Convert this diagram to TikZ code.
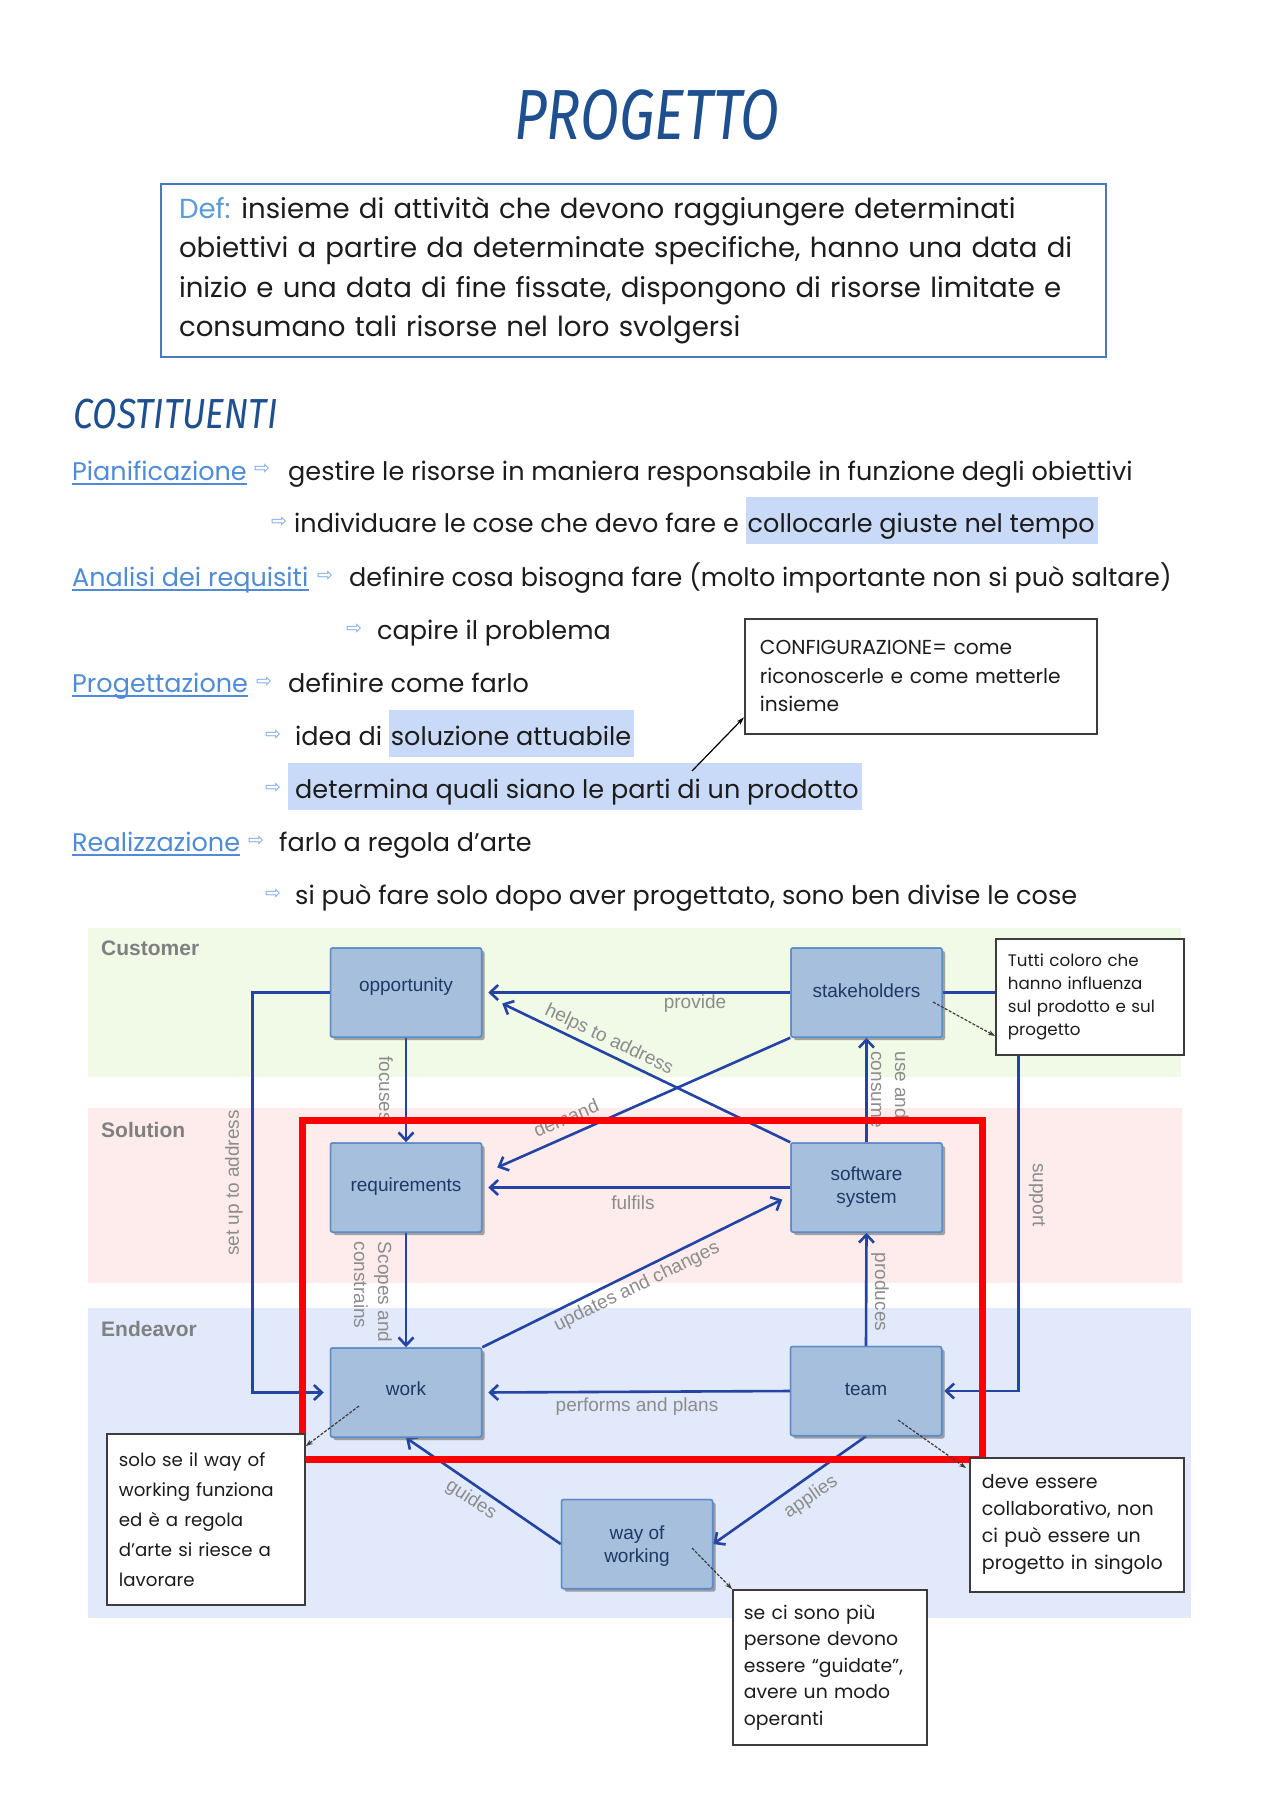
\documentclass[tikz,border=0pt]{standalone}
\usepackage{fontspec}
\setmainfont{Poppins}
\newfontfamily\arialf{Liberation Sans}
\newfontfamily\titlef{Fira Sans}
\newfontfamily\symf{DejaVu Sans}
\usetikzlibrary{arrows.meta,shadows,calc}
\definecolor{titleblue}{HTML}{1E4F8F}
\definecolor{defblue}{HTML}{4A78C0}
\definecolor{deflbl}{HTML}{5B9BD5}
\definecolor{linkblue}{HTML}{4F8BD6}
\definecolor{hlblue}{HTML}{C9DAF8}
\definecolor{txt}{HTML}{1C1C1C}
\definecolor{arrowsym}{HTML}{7FAAE6}
\definecolor{custbg}{HTML}{F1F9E7}
\definecolor{solbg}{HTML}{FDECEB}
\definecolor{endbg}{HTML}{E1E9FA}
\definecolor{nodefill}{HTML}{A5BFDD}
\definecolor{nodeborder}{HTML}{5B8BC9}
\definecolor{nodetext}{HTML}{1F3864}
\definecolor{connblue}{HTML}{2444A4}
\definecolor{lblgray}{HTML}{8C8C8C}
\definecolor{lanegray}{HTML}{808080}
\definecolor{anngray}{HTML}{3C3C3C}
\newcommand\hlbx[2][2pt]{{\setlength{\fboxsep}{0pt}\colorbox{hlblue}{\rule[-12pt]{0pt}{47pt}\hspace{#1}#2\hspace{3pt}}}}
\newcommand\rz[2]{\raisebox{#1}[\height][\depth]{#2}}
\begin{document}
\begin{tikzpicture}[x=1pt,y=-1pt,
  ltxt/.style={font=\fontsize{25.5}{30}\selectfont, text=txt, inner sep=0pt, anchor=base west},
  link/.style={font=\fontsize{25.5}{30}\selectfont, text=linkblue, inner sep=0pt, anchor=base west},
  uline/.style={draw=linkblue, line width=1.5pt},
  sym/.style={font=\symf\fontsize{19}{19}\selectfont, text=arrowsym, inner sep=0pt},
  diagnode/.style={draw=nodeborder, line width=1.5pt, fill=nodefill, rounded corners=2pt,
    minimum width=151pt, minimum height=89pt, inner sep=0pt, align=center,
    font=\arialf\fontsize{19}{23}\selectfont, text=nodetext,
    drop shadow={shadow xshift=3pt, shadow yshift=-3pt, opacity=0.35, fill=black!60}},
  conn/.style={draw=connblue, line width=2.6pt, -{Straight Barb[length=8pt,width=15pt]}},
  lbl/.style={font=\arialf\fontsize{19}{24}\selectfont, text=lblgray, inner sep=0pt, align=left},
  lane/.style={font=\arialf\bfseries\fontsize{21}{24}\selectfont, text=lanegray, inner sep=0pt, anchor=west},
  annbox/.style={draw=anngray, line width=1.8pt, fill=white, anchor=north west, align=left,
    inner ysep=0pt, text=txt},
  annarrow/.style={draw=anngray, line width=1.2pt, dash pattern=on 3pt off 1.5pt, -{Stealth[length=7pt,width=5pt]}}
]
\fill[white] (0,0) rectangle (1280,1818);
\useasboundingbox (0,0) rectangle (1280,1818);

% ---------- title ----------
\node[inner sep=0pt, text=titleblue, font=\titlef\itshape\fontsize{71}{71}\selectfont] (title) at (647,115.5) {\scalebox{0.8}[1]{PROGETTO}};

% ---------- definition ----------
\node[draw=defblue, line width=2pt, anchor=north west, minimum width=945pt, minimum height=173pt,
  text width=909pt, inner xsep=18pt, inner ysep=0pt, align=left, text=txt,
  font=\fontsize{27.6}{39.3}\selectfont] (defbox) at (160,183)
  {\mbox{\textcolor{deflbl}{Def:}\hspace{-3pt} insieme di attività che devono raggiungere determinati}\\
   \mbox{obiettivi a partire da determinate specifiche, hanno una data di}\\
   \mbox{inizio e una data di fine fissate, dispongono di risorse limitate e}\\
   \mbox{consumano tali risorse nel loro svolgersi}};

% ---------- costituenti ----------
\node[inner sep=0pt, text=titleblue, font=\titlef\itshape\fontsize{42}{42}\selectfont] (cost) at (175.5,414) {\scalebox{0.85}[1]{COSTITUENTI}};

\node[link] (l1) at (72,480) {Pianificazione};
\draw[uline] ($(l1.base west)+(0,4)$) -- ($(l1.base east)+(0,4)$);
\node[sym] (a1) at (262,469) {⇨};
\node[ltxt] (t1) at (288,480) {gestire le risorse in maniera responsabile in funzione degli obiettivi};

\node[sym] (a2) at (279,522) {⇨};
\node[ltxt] (t2) at (294,532) {individuare le cose che devo fare e \hlbx{collocarle giuste nel tempo}};

\node[link] (l2) at (72,586) {Analisi dei requisiti};
\draw[uline] ($(l2.base west)+(0,4)$) -- ($(l2.base east)+(0,4)$);
\node[sym] (a3) at (325,576) {⇨};
\node[ltxt] (t3) at (349,586) {definire cosa bisogna fare (molto importante non si può saltare)};

\node[sym] (a4) at (354,629) {⇨};
\node[ltxt] (t4) at (377,639) {capire il problema};

\node[link] (l3) at (72,692) {Progettazione};
\draw[uline] ($(l3.base west)+(0,4)$) -- ($(l3.base east)+(0,4)$);
\node[sym] (a5) at (264,682) {⇨};
\node[ltxt] (t5) at (288,692) {definire come farlo};

\node[sym] (a6) at (273,735) {⇨};
\node[ltxt] (t6) at (295,745) {idea di \hlbx{soluzione attuabile}};

\node[sym] (a7) at (273,788) {⇨};
\node[ltxt] (t7) at (288,798) {\hlbx[7pt]{determina quali siano le parti di un prodotto}};

\node[link] (l4) at (72,851) {Realizzazione};
\draw[uline] ($(l4.base west)+(0,4)$) -- ($(l4.base east)+(0,4)$);
\node[sym] (a8) at (256,841) {⇨};
\node[ltxt] (t8) at (279,851) {farlo a regola d’arte};

\node[sym] (a9) at (273,894) {⇨};
\node[ltxt] (t9) at (295,904) {si può fare solo dopo aver progettato, sono ben divise le cose};

% configurazione note
\node[annbox, minimum width=352pt, minimum height=115pt, text width=322pt, inner xsep=15pt,
  font=\fontsize{20.2}{28.5}\selectfont] (cfg) at (744,618)
  {\mbox{CONFIGURAZIONE= come}\\\mbox{riconoscerle e come metterle}\\\mbox{insieme}};
\coordinate (cfgfrom) at (692,771);
\draw[draw=black, line width=1.2pt, -{Stealth[length=8pt,width=5pt]}] (cfgfrom) -- ($(cfg.west)+(0,41)$);

% ---------- diagram lanes ----------
\fill[custbg] (88,928) rectangle (1181,1077);
\fill[solbg] (88,1108) rectangle (1182,1283);
\fill[endbg] (88,1308) rectangle (1191,1618);
\node[lane] (lcust) at (101,948) {Customer};
\node[lane] (lsol) at (101,1130) {Solution};
\node[lane] (lend) at (101,1329) {Endeavor};

% ---------- nodes (geometry) ----------
\node[diagnode] (opp) at (406,992.5) {\rz{6pt}{opportunity}};
\node[diagnode] (stake) at (866.5,992.5) {\rz{2pt}{stakeholders}};
\node[diagnode] (req) at (406,1187.5) {\rz{1pt}{requirements}};
\node[diagnode] (soft) at (866.5,1187.5) {software\\system};
\node[diagnode] (work) at (406,1392.5) {\rz{4pt}{work}};
\node[diagnode] (team) at (866,1391) {\rz{2pt}{team}};
\node[diagnode] (wow) at (637,1544) {\rz{-2pt}{way of}\\\rz{-2pt}{working}};

% ---------- connectors ----------
\draw[conn, shorten >=6pt] (stake.west) -- (opp.east);
\draw[conn] (soft.north west) -- ($(opp.east)+(20,11)$);
\draw[conn] (stake.south west) -- ($(req.east)+(15,-20)$);
\draw[conn] (opp.south) -- (req.north);
\draw[conn, shorten >=6pt] (soft.west) -- (req.east);
\draw[conn] (soft.north) -- (stake.south);
\draw[conn] (req.south) -- (work.north);
\draw[conn] (team.north) -- (soft.south);
\draw[conn, shorten >=6pt] (team.west) -- (work.east);
\draw[conn] (work.north east) -- ($(soft.west)+(-8,12)$);
\draw[conn, shorten >=6pt] (opp.west) -- ++(-77,0) |- (work.west);
\draw[conn, shorten >=2pt] (stake.east) -- ++(76,0) |- (team.east);
\draw[conn] (wow.west) -- (work.south);
\draw[conn] (team.south) -- (wow.east);

% redraw nodes on top of connectors
\node[diagnode] at (opp) {\rz{6pt}{opportunity}};
\node[diagnode] at (stake) {\rz{2pt}{stakeholders}};
\node[diagnode] at (req) {\rz{1pt}{requirements}};
\node[diagnode] at (soft) {software\\system};
\node[diagnode] at (work) {\rz{4pt}{work}};
\node[diagnode] at (team) {\rz{2pt}{team}};
\node[diagnode] at (wow) {\rz{-2pt}{way of}\\\rz{-2pt}{working}};

% ---------- labels ----------
\node[lbl] (lprov) at (695,1004) {provide};
\node[lbl, rotate=-25.5] (lhelp) at (609,1040) {helps to address};
\node[lbl, rotate=23] (ldem) at (566,1118) {demand};
\node[lbl, rotate=-90] (lfoc) at (386,1089) {focuses};
\node[lbl] (lful) at (633,1203) {fulfils};
\node[lbl, rotate=-90] (luse) at (890,1090) {use and\\consume};
\node[lbl, rotate=-90] (lscope) at (373,1292) {Scopes and\\constrains};
\node[lbl, rotate=90] (lset) at (234,1183) {set up to address};
\node[lbl, rotate=-90] (lsup) at (1037,1195) {support};
\node[lbl, rotate=-90] (lprod) at (880,1292) {produces};
\node[lbl] (lperf) at (637,1407) {performs and plans};
\node[lbl, rotate=26] (lupd) at (637,1287) {updates and changes};
\node[lbl, rotate=-33] (lguid) at (471,1500) {guides};
\node[lbl, rotate=34.5] (lappl) at (811,1497) {applies};

% ---------- red focus frame ----------
\node[draw=red, line width=7pt, anchor=north west, minimum width=680pt, minimum height=339pt, inner sep=0pt] (focus) at (299,1117) {};

% ---------- annotations ----------
\node[annbox, minimum width=188pt, minimum height=116pt, text width=164pt, inner xsep=12pt,
  font=\fontsize{16.7}{23}\selectfont] (annA) at (995,938)
  {\mbox{Tutti coloro che}\\\mbox{hanno influenza}\\\mbox{sul prodotto e sul}\\\mbox{progetto}};
\coordinate (fromA) at (933,1002);
\draw[annarrow] (fromA) -- ($(annA.west)+(0,39)$);

\node[annbox, minimum width=198pt, minimum height=171pt, text width=174pt, inner xsep=12pt,
  font=\fontsize{18.2}{30}\selectfont] (annB) at (106,1433)
  {\mbox{solo se il way of}\\\mbox{working funziona}\\\mbox{ed è a regola}\\\mbox{d’arte si riesce a}\\\mbox{lavorare}};
\coordinate (fromB) at (359,1406);
\draw[annarrow] (fromB) -- ($(annB.north east)+(0,13)$);

\node[annbox, minimum width=214pt, minimum height=134pt, text width=190pt, inner xsep=12pt,
  font=\fontsize{19}{27}\selectfont] (annC) at (969,1457)
  {\mbox{deve essere}\\\mbox{collaborativo, non}\\\mbox{ci può essere un}\\\mbox{progetto in singolo}};
\coordinate (fromC) at (898,1420);
\draw[annarrow] (fromC) -- ($(annC.north west)+(-3,11)$);

\node[annbox, minimum width=194pt, minimum height=155pt, text width=172pt, inner xsep=11pt,
  font=\fontsize{18.8}{26.5}\selectfont] (annD) at (732,1589)
  {\mbox{se ci sono più}\\\mbox{persone devono}\\\mbox{essere “guidate”,}\\\mbox{avere un modo}\\\mbox{operanti}};
\coordinate (fromD) at (692,1548);
\draw[annarrow] (fromD) -- (annD.north west);
\end{tikzpicture}
\end{document}
